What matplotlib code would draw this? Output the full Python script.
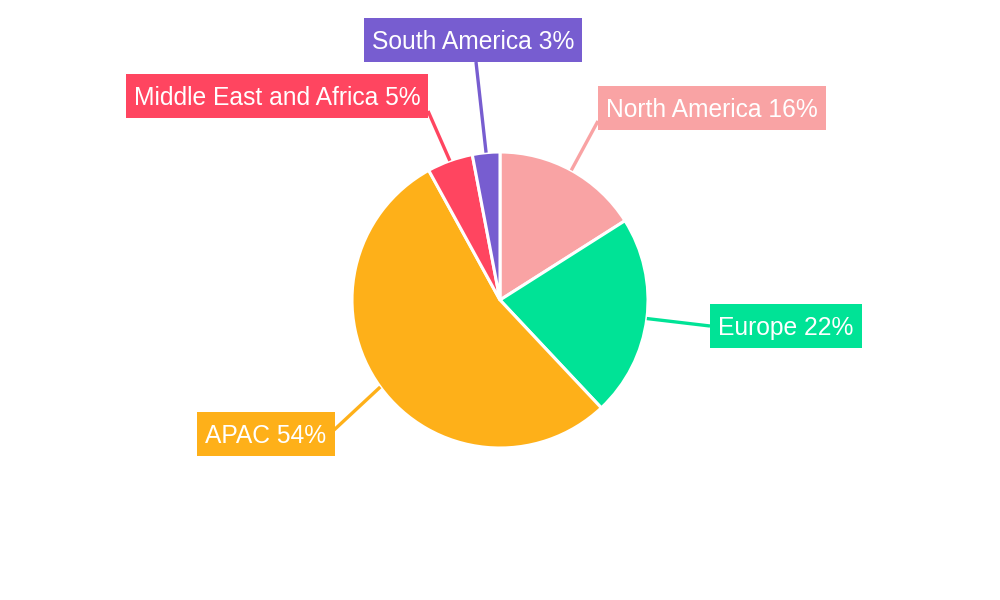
import matplotlib
matplotlib.use('Agg')
import numpy as np
import matplotlib.pyplot as plt
from matplotlib.patches import Rectangle

regions = ['North America', 'Europe', 'APAC', 'Middle East and Africa', 'South America']
shares = [16, 22, 54, 5, 3]
colors = ['#F9A3A4', '#00E396', '#FEB019', '#FF4560', '#775DD0']

# label box centres and where the leader line meets the box (pixels, y down)
label_pos = [(712, 108), (786, 326), (266, 434), (277, 96), (473, 40)]
line_end = [(598, 121), (710, 326), (334, 430), (428, 111), (476, 62)]

plt.rcParams['font.family'] = ['Liberation Sans', 'DejaVu Sans']

fig = plt.figure(figsize=(10, 6), dpi=100)
ax = fig.add_axes([0, 0, 1, 1])

cx, cy, r = 500, 300, 148
ax.pie(shares, colors=colors, startangle=90, counterclock=False,
       center=(cx, cy), radius=r, frame=True,
       wedgeprops=dict(edgecolor='white', linewidth=2.2))
ax.set_xlim(0, 1000)
ax.set_ylim(0, 600)
ax.set_aspect('equal')
ax.axis('off')

fs = 17.7
cap = 0.716 * fs * 100 / 72
renderer = fig.canvas.get_renderer()
total = sum(shares)
cum = 0
for i, (name, val) in enumerate(zip(regions, shares)):
    mid = cum + val / 2
    cum += val
    ang = np.deg2rad(90 - 360 * mid / total)
    x0, y0 = cx + r * np.cos(ang), cy + r * np.sin(ang)
    ex, ey = line_end[i]
    ax.plot([x0, ex], [y0, 600 - ey], color=colors[i], lw=2.4,
            solid_capstyle='butt', zorder=1)
    lx, ly = label_pos[i]
    t = ax.text(lx, 600 - ly - cap / 2, f'{name} {val}%', color='white',
                fontsize=fs, ha='center', va='baseline', zorder=4)
    w = t.get_window_extent(renderer).width
    ax.add_patch(Rectangle((lx - w / 2 - 8, 600 - ly - 22), w + 16, 44,
                           fc=colors[i], ec='none', zorder=3))

fig.savefig('out.png', dpi=100)
